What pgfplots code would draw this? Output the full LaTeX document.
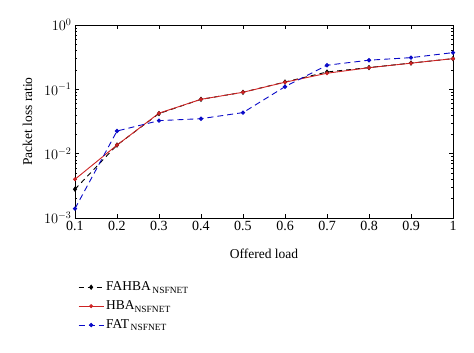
\documentclass[border=0pt]{standalone}
\usepackage{fontspec}
\setmainfont{Liberation Serif}
\usepackage{pgfplots}
\pgfplotsset{compat=1.18}
\definecolor{myred}{RGB}{205,35,35}
\definecolor{myblue}{RGB}{10,10,200}
\begin{document}
\begin{tikzpicture}[x=1pt,y=1pt]
\path (-75,-135) rectangle (399,218);
\begin{axis}[
  at={(0,0)}, anchor=south west,
  scale only axis, width=378pt, height=193pt,
  ymode=log, xmin=0.1, xmax=1, ymin=1e-3, ymax=1,
  xtick={0.1,0.2,0.3,0.4,0.5,0.6,0.7,0.8,0.9,1},
  xticklabels={0.1,0.2,0.3,0.4,0.5,0.6,0.7,0.8,0.9,1},
  ytick={1e-3,1e-2,1e-1,1},
  yticklabels={$10^{-3}$,$10^{-2}$,$10^{-1}$,$10^{0}$},
  tick align=inside, major tick length=4pt, minor tick length=2pt,
  tick style={black, line width=0.5pt},
  axis line style={line width=0.7pt},
  tick label style={font=\fontsize{14}{16}\selectfont},
  label style={font=\fontsize{13.5}{15}\selectfont},
  xlabel={Offered load}, ylabel={Packet loss ratio},
  xlabel style={yshift=-11pt}, ylabel style={yshift=5pt},
  legend cell align=left,
  legend style={at={(0,-0.31)}, anchor=north west, draw=none, fill=none,
    font=\fontsize{13.5}{15}\selectfont, row sep=4.5pt,
    /tikz/every even column/.append style={column sep=4pt}},
  legend image code/.code={
    \draw[mark repeat=2,mark phase=2,#1] plot coordinates {(0pt,0pt) (12.5pt,0pt) (25pt,0pt)};},
]
\addplot[black, dash pattern=on 5pt off 4pt, line width=0.9pt, mark=diamond*, mark size=2pt, mark options={solid}] coordinates {
(0.1,0.0028) (0.2,0.0136) (0.3,0.042) (0.4,0.070) (0.5,0.090) (0.6,0.130) (0.7,0.186) (0.8,0.218) (0.9,0.256) (1.0,0.300)};
\addlegendentry{FAHBA\textsubscript{\,NSFNET}}
\addplot[myred, solid, line width=0.9pt, mark=*, mark size=1.5pt] coordinates {
(0.1,0.0040) (0.2,0.0136) (0.3,0.0426) (0.4,0.070) (0.5,0.090) (0.6,0.129) (0.7,0.178) (0.8,0.217) (0.9,0.255) (1.0,0.300)};
\addlegendentry{HBA\textsubscript{NSFNET}}
\addplot[myblue, dash pattern=on 6pt off 4pt, line width=0.9pt, mark=*, mark size=1.7pt, mark options={solid}] coordinates {
(0.1,0.0014) (0.2,0.0225) (0.3,0.0326) (0.4,0.035) (0.5,0.0435) (0.6,0.110) (0.7,0.237) (0.8,0.284) (0.9,0.311) (1.0,0.372)};
\addlegendentry{FAT\textsubscript{\,NSFNET}}
\end{axis}
\end{tikzpicture}
\end{document}
